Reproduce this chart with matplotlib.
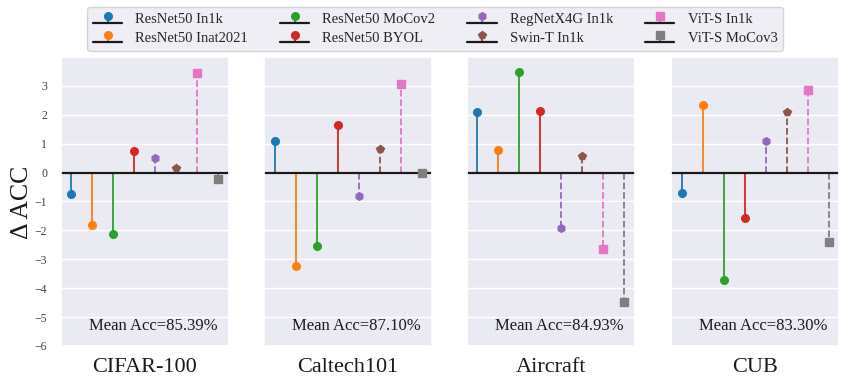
import matplotlib
matplotlib.use("Agg")
import matplotlib.pyplot as plt
import seaborn as sns

sns.set_theme(style="darkgrid")
plt.rcParams['font.family'] = ['Liberation Serif', 'DejaVu Serif']

models = ["ResNet50 In1k", "ResNet50 Inat2021", "ResNet50 MoCov2", "ResNet50 BYOL",
          "RegNetX4G In1k", "Swin-T In1k", "ViT-S In1k", "ViT-S MoCov3"]
colors = ["#1f77b4", "#ff7f0e", "#2ca02c", "#d62728",
          "#9467bd", "#8c564b", "#e377c2", "#7f7f7f"]
markers = ["o", "o", "o", "o", "h", "p", "s", "s"]
styles = ["-", "-", "-", "-", "--", "--", "--", "--"]

datasets = ["CIFAR-100", "Caltech101", "Aircraft", "CUB"]
mean_acc = ["85.39%", "87.10%", "84.93%", "83.30%"]

cifar100 = [-0.73, -1.83, -2.13, 0.76, 0.52, 0.17, 3.44, -0.21]
caltech101 = [1.10, -3.23, -2.54, 1.65, -0.80, 0.80, 3.05, -0.02]
aircraft = [2.09, 0.78, 3.49, 2.12, -1.93, 0.58, -2.63, -4.49]
cub = [-0.69, 2.33, -3.71, -1.58, 1.10, 2.09, 2.87, -2.40]
values = [cifar100, caltech101, aircraft, cub]

fig = plt.figure(figsize=(8.55, 3.8), dpi=100)
lefts = [0.0713, 0.3088, 0.546, 0.785]
axes = []
for k, left in enumerate(lefts):
    ax = fig.add_axes([left, 0.0895, 0.1965, 0.7605])
    axes.append(ax)
    vals = values[k]
    for i, name in enumerate(models):
        cont = ax.stem([i], [vals[i]], basefmt='k-', label=name)
        cont.markerline.set_color(colors[i])
        cont.markerline.set_marker(markers[i])
        cont.markerline.set_markersize(6 if markers[i] == 's' else 5.5)
        cont.markerline.set_zorder(3)
        cont.stemlines.set_color(colors[i])
        cont.stemlines.set_linestyle(styles[i])
        cont.stemlines.set_linewidth(1.3)
        cont.baseline.set_linewidth(1.6)
    ax.axhline(0, color='k', lw=1.6, zorder=2.5)
    ax.set_xlim(-0.5, 7.5)
    ax.set_ylim(-6, 4)
    ax.set_yticks(range(-6, 4))
    ax.set_xticks([])
    ax.grid(axis='x', visible=False)
    ax.tick_params(axis='y', labelsize=8.5, pad=4, labelcolor='#404040')
    if k > 0:
        ax.set_yticklabels([])
    ax.set_xlabel(datasets[k], fontsize=16, labelpad=9, color='#1a1a1a')
    ax.text(0.55, -5.3, "Mean Acc=" + mean_acc[k], transform=ax.get_yaxis_transform(),
            ha='center', va='center', fontsize=12, color='#1a1a1a')

fig.text(0.026, 0.468, "Δ ACC", rotation=90, ha='center', va='center',
         fontsize=18.5, color='#1a1a1a')

handles, labels = axes[0].get_legend_handles_labels()
fig.legend(handles, labels, loc='upper center', bbox_to_anchor=(0.509, 1.0),
           ncol=4, fontsize=10.5, columnspacing=2.2, handletextpad=0.9,
           borderpad=0.4, labelspacing=0.4, frameon=True)

fig.savefig("out.png", dpi=100)
